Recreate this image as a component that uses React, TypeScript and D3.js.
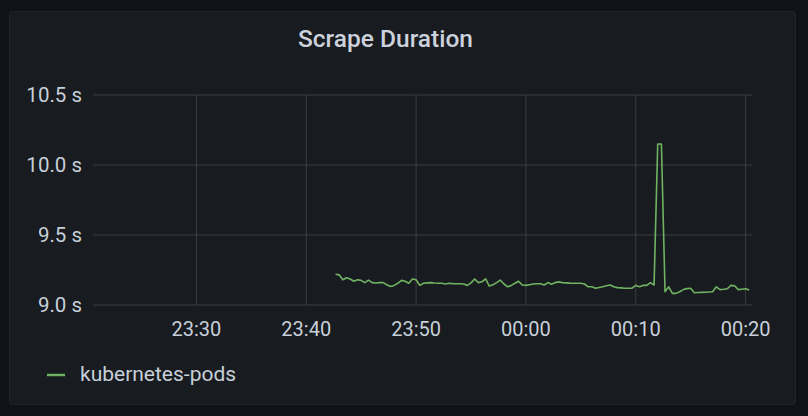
import React, { useEffect, useRef } from 'react';
import * as d3 from 'd3';

// scrape samples, one every 20 s starting at 23:42:40
const seriesName = 'kubernetes-pods';
const sampleStart = '23:42:40';
const sampleStepSeconds = 20;
const scrapeSeconds = [
  9.22, 9.215, 9.18, 9.195, 9.186, 9.17, 9.18, 9.176, 9.16, 9.178,
  9.16, 9.157, 9.16, 9.16, 9.145, 9.132, 9.14, 9.155, 9.176, 9.17,
  9.155, 9.186, 9.18, 9.14, 9.155, 9.158, 9.16, 9.157, 9.155, 9.155,
  9.15, 9.155, 9.153, 9.152, 9.152, 9.15, 9.14, 9.158, 9.186, 9.16,
  9.166, 9.186, 9.135, 9.145, 9.16, 9.178, 9.15, 9.13, 9.14, 9.155,
  9.17, 9.143, 9.14, 9.145, 9.15, 9.152, 9.152, 9.143, 9.16, 9.148,
  9.16, 9.165, 9.16, 9.158, 9.156, 9.155, 9.155, 9.155, 9.15, 9.13,
  9.13, 9.12, 9.125, 9.13, 9.137, 9.143, 9.13, 9.124, 9.122, 9.12,
  9.12, 9.12, 9.14, 9.13, 9.14, 9.14, 9.16, 9.143, 10.15, 10.15,
  9.095, 9.13, 9.083, 9.083, 9.095, 9.11, 9.117, 9.12, 9.088, 9.089,
  9.09, 9.091, 9.093, 9.095, 9.13, 9.11, 9.112, 9.116, 9.14, 9.138,
  9.11, 9.113, 9.116, 9.107,
];

const yTicks = [9.0, 9.5, 10.0, 10.5];
const xTickLabels = ['23:30', '23:40', '23:50', '00:00', '00:10', '00:20'];
const timeWindow = ['23:20:35', '00:20:35'];

const W = 808;
const H = 416;

// clock strings -> Date on a fixed day, rolling past midnight
const toDate = (s: string) => {
  const [h, m, sec] = s.split(':').map(Number);
  const d = new Date(2021, 0, 1, h, m, sec || 0);
  if (h < 12) d.setDate(2);
  return d;
};

const App: React.FC = () => {
  const svgRef = useRef<SVGSVGElement>(null);

  useEffect(() => {
    if (!svgRef.current) return;
    const svg = d3.select(svgRef.current);
    svg.selectAll('*').remove();

    const font = 'Roboto, "Noto Sans", sans-serif';
    const textColor = '#c7d0d9';
    const gridColor = '#3c3d41';

    svg.append('rect').attr('width', W).attr('height', H).attr('fill', '#111217');
    svg.append('rect')
      .attr('x', 9.5).attr('y', 11.5)
      .attr('width', 786).attr('height', 393)
      .attr('rx', 3)
      .attr('fill', '#181b1f')
      .attr('stroke', '#222427');

    const x = d3.scaleTime()
      .domain(timeWindow.map(toDate))
      .range([93, 752]);
    const y = d3.scaleLinear()
      .domain([9.0, 10.5])
      .range([305, 95]);

    svg.append('text')
      .text('Scrape Duration')
      .attr('x', 385.5).attr('y', 47)
      .attr('text-anchor', 'middle')
      .attr('font-family', font)
      .attr('font-weight', 500)
      .attr('font-size', 24.5)
      .attr('fill', '#ccd2dc');

    // horizontal grid + y labels
    const yg = svg.append('g');
    yg.selectAll('line')
      .data(yTicks)
      .join('line')
      .attr('x1', 93).attr('x2', 752)
      .attr('y1', d => y(d)).attr('y2', d => y(d))
      .attr('stroke', gridColor);
    yg.selectAll('text')
      .data(yTicks)
      .join('text')
      .text(d => `${d.toFixed(1)} s`)
      .attr('x', 82)
      .attr('y', d => y(d))
      .attr('dy', '0.35em')
      .attr('text-anchor', 'end')
      .attr('font-family', font)
      .attr('font-size', 20.5)
      .attr('fill', textColor);

    // vertical grid + x labels
    const xTicks = xTickLabels.map(t => toDate(t));
    const xg = svg.append('g');
    xg.selectAll('line')
      .data(xTicks)
      .join('line')
      .attr('x1', d => x(d)).attr('x2', d => x(d))
      .attr('y1', 95).attr('y2', 305)
      .attr('stroke', gridColor);
    xg.selectAll('text')
      .data(xTicks)
      .join('text')
      .text(d => d3.timeFormat('%H:%M')(d))
      .attr('x', d => x(d))
      .attr('y', 336)
      .attr('text-anchor', 'middle')
      .attr('font-family', font)
      .attr('font-size', 20)
      .attr('fill', textColor);

    const t0 = toDate(sampleStart);
    const points = scrapeSeconds.map((v, i) => ({
      t: new Date(t0.getTime() + i * sampleStepSeconds * 1000),
      v,
    }));

    const line = d3.line<{ t: Date; v: number }>()
      .x(d => x(d.t))
      .y(d => y(d.v));

    svg.append('path')
      .datum(points)
      .attr('d', line)
      .attr('fill', 'none')
      .attr('stroke', '#6fb362')
      .attr('stroke-width', 1.6)
      .attr('stroke-linejoin', 'round');

    // legend
    svg.append('line')
      .attr('x1', 47).attr('x2', 65)
      .attr('y1', 375).attr('y2', 375)
      .attr('stroke', '#6fb362')
      .attr('stroke-width', 2.5);
    svg.append('text')
      .text(seriesName)
      .attr('x', 80).attr('y', 381)
      .attr('font-family', font)
      .attr('font-size', 21)
      .attr('fill', textColor);
  }, []);

  return (
    <div style={{ position: 'absolute', left: 0, top: 0 }}>
      <svg ref={svgRef} width={W} height={H} style={{ display: 'block' }} />
    </div>
  );
};

export default App;
